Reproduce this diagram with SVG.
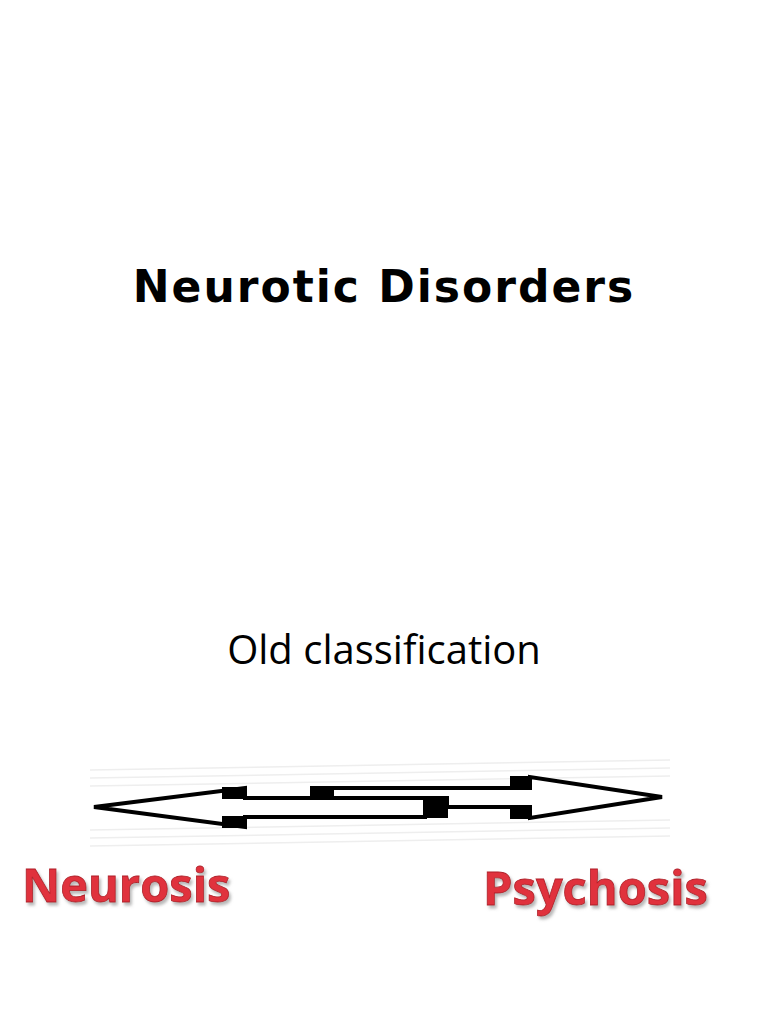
<svg xmlns="http://www.w3.org/2000/svg" width="768" height="1024" viewBox="0 0 768 1024">
<defs>
<filter id="shadow" x="-10%" y="-20%" width="120%" height="150%">
<feDropShadow dx="2" dy="3" stdDeviation="1.5" flood-color="#888" flood-opacity="0.6"/>
</filter>
</defs>
<style>
.ar{fill:#fff;stroke:#000;stroke-width:4;stroke-linejoin:miter}
.lab{font-family:"Open Sans","Liberation Sans",sans-serif;font-weight:bold;font-size:47px;fill:#e0323c;stroke:#b0202a;stroke-width:0.8;filter:url(#shadow)}
</style>
<rect width="768" height="1024" fill="#fff"/>
<text x="384" y="302" text-anchor="middle" font-family="DejaVu Sans,sans-serif" font-weight="bold" font-size="44" letter-spacing="2">Neurotic Disorders</text>
<text x="384" y="664" text-anchor="middle" font-family="Open Sans,Liberation Sans,sans-serif" font-size="40">Old classification</text>
<g id="bg" stroke="#eee" stroke-width="1.5">
<line x1="90" y1="770" x2="670" y2="760"/><line x1="90" y1="778" x2="670" y2="768"/>
<line x1="90" y1="786" x2="670" y2="776"/><line x1="90" y1="830" x2="670" y2="820"/>
<line x1="90" y1="838" x2="670" y2="828"/><line x1="90" y1="846" x2="670" y2="836"/>
</g>
<g id="connectors">
<polygon id="left-arrow" class="ar" points="94,807 245,788 245,798 425,798 425,817 245,817 245,827"/>
<polygon id="right-arrow" class="ar" points="662,797 530,777 530,788 312,788 312,798 447,798 447,807 530,807 530,818"/>
<rect x="222" y="787" width="24" height="12"/><rect x="222" y="816" width="24" height="12"/>
<rect x="310" y="786" width="24" height="12"/><rect x="425" y="797" width="23" height="21"/>
<rect x="510" y="776" width="22" height="12"/><rect x="510" y="806" width="22" height="13"/>
</g>
<g id="neurosis"><text class="lab" x="22" y="902">Neurosis</text></g>
<g id="psychosis"><text class="lab" x="483" y="905">Psychosis</text></g>
</svg>
